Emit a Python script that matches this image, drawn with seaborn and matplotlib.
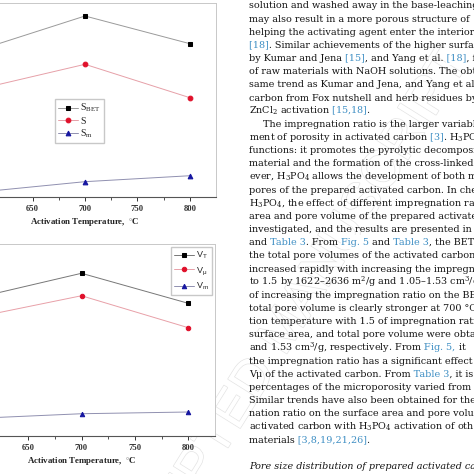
import re
import matplotlib
matplotlib.use('Agg')
import matplotlib.pyplot as plt
import matplotlib.patheffects as pe
from matplotlib.patches import Rectangle
from matplotlib.transforms import Bbox, IdentityTransform
from matplotlib.font_manager import FontProperties
import seaborn as sns
import pandas as pd

sns.set_style('white')
plt.rcParams['font.family'] = ['Liberation Serif', 'DejaVu Serif']
plt.rcParams['mathtext.fontset'] = 'custom'
plt.rcParams['mathtext.rm'] = 'Liberation Serif'
plt.rcParams['mathtext.it'] = 'Liberation Serif:italic'
plt.rcParams['mathtext.bf'] = 'Liberation Serif:bold'
plt.rcParams['mathtext.sf'] = 'Liberation Sans'

# data
temps = [600, 700, 800]
s_bet = [2279, 2799, 2371]
s_mu = [1673, 2052, 1536]
s_meso = [77, 237, 329]
v_t = [1.435, 1.695, 1.382]
v_mu = [1.234, 1.461, 1.128]
v_meso = [0.183, 0.232, 0.250]
xticks = [650, 700, 750, 800]

W = 474.0
fig = plt.figure(figsize=(4.74, 4.74), dpi=100)


def px_axes(l, t, r, b):
    return fig.add_axes([l / W, 1 - b / W, (r - l) / W, (b - t) / W])


def style_axes(ax, ylim):
    ax.set_xlim(575, 825)
    ax.set_ylim(*ylim)
    ax.set_xticks(xticks)
    ax.set_xticks([675, 725, 775], minor=True)
    ax.set_yticks([])
    ax.tick_params(axis='x', which='major', direction='out', length=3, width=0.7,
                   pad=3, labelsize=6.2, colors='#333333', bottom=True)
    ax.tick_params(axis='x', which='minor', direction='out', length=2, width=0.6,
                   colors='#333333', bottom=True)
    for lab in ax.get_xticklabels():
        lab.set_fontweight('bold')
    for side in ['top', 'right', 'left']:
        ax.spines[side].set_color('#c8c8c8')
        ax.spines[side].set_linewidth(0.7)
    ax.spines['bottom'].set_color('#555555')
    ax.spines['bottom'].set_linewidth(0.8)
    ax.set_xlabel('Activation Temperature,  $^{\\circ}$C', fontsize=6.4,
                  fontweight='bold', labelpad=2, color='#222222')


def series(ax, y, lc, mc, mk, label, ms):
    df = pd.DataFrame({'t': temps, 'v': y})
    sns.lineplot(data=df, x='t', y='v', ax=ax, color=lc, lw=0.7, marker=mk,
                 markersize=ms, markerfacecolor=mc, markeredgecolor=mc,
                 label=label)


ax1 = px_axes(-46, 3, 216, 197)
series(ax1, s_bet, '#9a9a9a', 'black', 's', 'S$_{\\mathrm{BET}}$', 3.2)
series(ax1, s_mu, '#e6a0a8', '#e0102a', 'o', 'S', 3.4)
series(ax1, s_meso, '#9090b0', '#1515a0', '^', 'S$_{\\mathrm{m}}$', 3.4)
style_axes(ax1, (0, 3000))
ax1.set_ylabel('')
ax1.legend(loc='upper left', bbox_to_anchor=(55 / W, 1 - 99 / W),
           bbox_transform=fig.transFigure, fontsize=7.2, frameon=True,
           fancybox=False, edgecolor='#bbbbbb', handlelength=2.0,
           handletextpad=0.25, labelspacing=0.2, borderpad=0.3,
           borderaxespad=0)

ax2 = px_axes(-52, 244, 215, 436)
series(ax2, v_t, '#777777', 'black', 's', 'V$_{\\mathsf{T}}$', 3.0)
series(ax2, v_mu, '#e8a0a8', '#e0102a', 'o', 'V$_{\\mathsf{\u03bc}}$', 3.2)
series(ax2, v_meso, '#9090b0', '#1515a0', '^', 'V$_{\\mathsf{m}}$', 3.2)
style_axes(ax2, (0, 2.0))
ax2.set_ylabel('')
ax2.legend(loc='upper right', bbox_to_anchor=(212 / W, 1 - 247 / W),
           bbox_transform=fig.transFigure, frameon=True,
           fancybox=False, edgecolor='#bbbbbb', handlelength=2.2,
           handletextpad=0.3, labelspacing=0.45, borderpad=0.3,
           borderaxespad=0, prop={'family': 'Liberation Sans', 'size': 6.5})

# page text to the right of the figure
body = [
    'solution and washed away in the base-leaching',
    'may also result in a more porous structure of',
    'helping the activating agent enter the interior',
    '[18]. Similar achievements of the higher surface',
    'by Kumar and Jena [15], and Yang et al. [18], for',
    'of raw materials with NaOH solutions. The obtained',
    'same trend as Kumar and Jena, and Yang et al. for',
    'carbon from Fox nutshell and herb residues by',
    'ZnCl$_2$ activation [15,18].',
    'The impregnation ratio is the larger variable',
    'ment of porosity in activated carbon [3]. H$_3$PO$_4$',
    'functions: it promotes the pyrolytic decomposition',
    'material and the formation of the cross-linked struc',
    'ever, H$_3$PO$_4$ allows the development of both micro',
    'pores of the prepared activated carbon. In chemical',
    'H$_3$PO$_4$, the effect of different impregnation ratio',
    'area and pore volume of the prepared activated',
    'investigated, and the results are presented in',
    'and Table 3. From Fig. 5 and Table 3, the BET',
    'the total pore volumes of the activated carbon',
    'increased rapidly with increasing the impregnation',
    'to 1.5 by 1622\u20132636 m$^2$/g and 1.05\u20131.53 cm$^3$/g',
    'of increasing the impregnation ratio on the BET',
    'total pore volume is clearly stronger at 700 \u00b0C',
    'tion temperature with 1.5 of impregnation ratio',
    'surface area, and total pore volume were obtained',
    'and 1.53 cm$^3$/g, respectively. From Fig. 5, it',
    'the impregnation ratio has a significant effect on',
    'V\u03bc of the activated carbon. From Table 3, it is',
    'percentages of the microporosity varied from',
    'Similar trends have also been obtained for the imp',
    'nation ratio on the surface area and pore volume',
    'activated carbon with H$_3$PO$_4$ activation of other',
    'materials [3,8,19,21,26].',
]
indents = {9: 14}
link = '#3f8fc4'
pat = re.compile(r'(\[[\d,]+\]|Fig\. 5|Table 3)')

tx = fig.add_axes([0, 0, 1, 1])
tx.axis('off')
tx.set_zorder(-1)

# faint diagonal watermark behind the page text
tx.text(285 / W, 1 - 330 / W, 'ACCEPTED MANUSCRIPT', rotation=58, fontsize=38,
        family='Liberation Sans', color='white', ha='center', va='center',
        transform=fig.transFigure, zorder=0,
        path_effects=[pe.withStroke(linewidth=1.0, foreground='#e4e4e4')])

x0 = 249.0
y_first = 8.5  # baseline of first line, px from top
pitch = 13.15

fig.canvas.draw()
rend = fig.canvas.get_renderer()


def width(s, fp):
    w, h, d = rend.get_text_width_height_descent(s, fp, ismath=('$' in s))
    return w


def put_line(s, ybase, xpx, style='normal'):
    fp = FontProperties(family='DejaVu Serif', size=6.95, style=style,
                        math_fontfamily='dejavuserif')
    yb = W - ybase
    base = tx.text(xpx / W, yb / W, s, fontproperties=fp, va='baseline',
                   ha='left', color='#151515', transform=fig.transFigure, zorder=2)
    left = base.get_window_extent(rend).x0
    prefix = ''
    for p in pat.split(s):
        if not p:
            continue
        if pat.fullmatch(p):
            end = left + width(prefix + p, fp) + 0.4
            start = end - width(p, fp) - 0.8
            clip = Bbox([[start, yb - 4], [end, yb + 10]])
            tx.add_patch(Rectangle((start, yb - 4), end - start, 14,
                                   transform=IdentityTransform(), facecolor='white',
                                   edgecolor='none', zorder=3))
            blue = tx.text(xpx / W, yb / W, s, fontproperties=fp, va='baseline',
                           ha='left', color=link, transform=fig.transFigure,
                           zorder=4)
            blue.set_clip_box(clip)
            blue.set_clip_on(True)
        prefix += p


for i, line in enumerate(body):
    put_line(line, y_first + i * pitch, x0 + indents.get(i, 0))
put_line('Pore size distribution of prepared activated carbon',
         y_first + (len(body) + 1) * pitch + 0.5, x0, style='italic')

fig.savefig('out.png', dpi=100)
